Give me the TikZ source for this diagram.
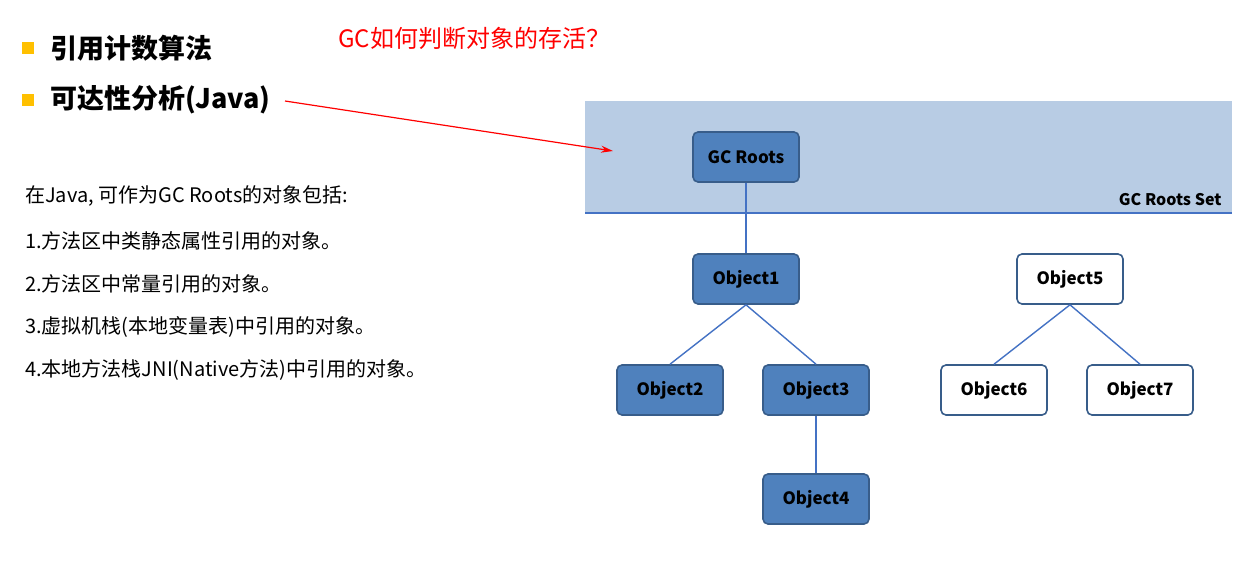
\documentclass[tikz,border=0pt]{standalone}
\usepackage{fontspec}
\setmainfont{Noto Sans CJK SC}
\usetikzlibrary{arrows.meta}
\definecolor{band}{RGB}{184,204,228}
\definecolor{line}{RGB}{68,114,196}
\definecolor{nfill}{RGB}{79,129,189}
\definecolor{nedge}{RGB}{56,93,138}
\definecolor{bul}{RGB}{255,192,0}
\tikzset{
 obj/.style={rounded corners=5pt,draw=nedge,line width=1.6pt,fill=nfill,minimum width=106pt,minimum height=50pt,font=\fontsize{17}{20}\selectfont\bfseries},
 wobj/.style={obj,fill=white},
 edge/.style={draw=line,line width=1.4pt},
 txt/.style={anchor=west,font=\fontsize{20}{24}\selectfont,inner sep=0}
}
\begin{document}
\begin{tikzpicture}[x=1pt,y=-1pt]
\useasboundingbox[fill=white] (0,0) rectangle (1255,562);
\fill[band] (585,101) rectangle (1232,213);
\draw[line,line width=2.5pt] (585,213) -- (1232,213);
\node[anchor=east,font=\fontsize{16}{19}\selectfont\bfseries] (set) at (1225,200) {GC Roots Set};
\fill[bul] (22,42) rectangle (34,54);
\fill[bul] (22,94) rectangle (34,106);
\node[txt,font=\fontsize{27}{30}\selectfont\bfseries] (b1) at (50,48) {引用计数算法};
\node[txt,font=\fontsize{27}{30}\selectfont\bfseries] (b2) at (50,100) {可达性分析(Java)};
\node[txt,font=\fontsize{24}{28}\selectfont,text=red] (title) at (338,38) {GC如何判断对象的存活？};
\coordinate (as) at (285,101);
\coordinate (ae) at (613,151);
\draw[red,line width=1.2pt,-{Stealth[length=12pt,width=7pt]}] (as) -- (ae);
\node[txt] (t0) at (25,196) {在Java, 可作为GC Roots的对象包括:};
\node[txt] (t1) at (25,241) {1.方法区中类静态属性引用的对象。};
\node[txt] (t2) at (25,284) {2.方法区中常量引用的对象。};
\node[txt] (t3) at (25,327) {3.虚拟机栈(本地变量表)中引用的对象。};
\node[txt] (t4) at (25,370) {4.本地方法栈JNI(Native方法)中引用的对象。};
\node[obj] (gc) at (746,157) {GC Roots};
\node[obj] (o1) at (746,279) {Object1};
\node[obj] (o2) at (670,390) {Object2};
\node[obj] (o3) at (816,390) {Object3};
\node[obj] (o4) at (816,499) {Object4};
\node[wobj] (o5) at (1070,279) {Object5};
\node[wobj] (o6) at (994,390) {Object6};
\node[wobj] (o7) at (1140,390) {Object7};
\draw[edge] (gc) -- (o1);
\draw[edge] (o1.south) -- (o2.north);
\draw[edge] (o1.south) -- (o3.north);
\draw[edge] (o3) -- (o4);
\draw[edge] (o5.south) -- (o6.north);
\draw[edge] (o5.south) -- (o7.north);
\end{tikzpicture}
\end{document}
